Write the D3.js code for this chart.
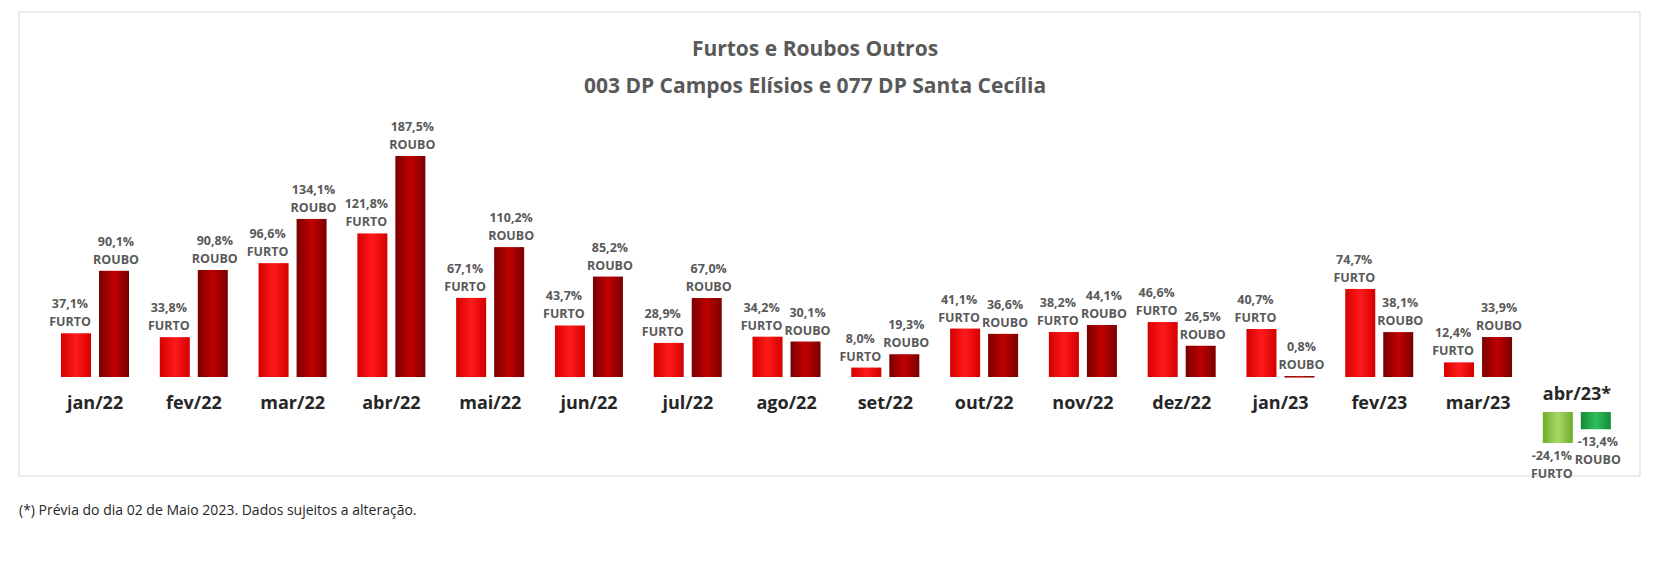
<!DOCTYPE html><html><head><meta charset="utf-8"><script src="https://cdn.jsdelivr.net/npm/d3@7"></script>
<style>body{margin:0;background:#fff;font-family:"Open Sans",Calibri,sans-serif}</style></head><body><svg id="c" width="1664" height="571"></svg>
<script>
const months=["jan/22","fev/22","mar/22","abr/22","mai/22","jun/22","jul/22","ago/22","set/22","out/22","nov/22","dez/22","jan/23","fev/23","mar/23","abr/23*"];
const furto=[37.1,33.8,96.6,121.8,67.1,43.7,28.9,34.2,8.0,41.1,38.2,46.6,40.7,74.7,12.4,-24.1];
const roubo=[90.1,90.8,134.1,187.5,110.2,85.2,67.0,30.1,19.3,36.6,44.1,26.5,0.8,38.1,33.9,-13.4];
const svg=d3.select("#c");
const defs=svg.append("defs");
function grad(id,a,b){const g=defs.append("linearGradient").attr("id",id);g.append("stop").attr("offset","0").attr("stop-color",b);g.append("stop").attr("offset","0.5").attr("stop-color",a);g.append("stop").attr("offset","1").attr("stop-color",b);}
grad("gf","#ff1a1a","#d40000");grad("gr","#c00000","#7a0000");grad("gfn","#a8d86a","#6fae2a");grad("grn","#2fbf5a","#158a3a");
svg.append("rect").attr("x",19).attr("y",12).attr("width",1621).attr("height",464).attr("fill","#fff").attr("stroke","#d9d9d9");
svg.append("text").attr("x",815).attr("y",56).attr("text-anchor","middle").attr("font-size",21).attr("font-weight","bold").attr("fill","#595959").text("Furtos e Roubos Outros");
svg.append("text").attr("x",815).attr("y",93).attr("text-anchor","middle").attr("font-size",21).attr("font-weight","bold").attr("fill","#595959").text("003 DP Campos Elísios e 077 DP Santa Cecília");
const x=d3.scaleBand().domain(months).range([61,1611]).paddingInner(0.31).paddingOuter(0);
const y=d3.scaleLinear().domain([0,187.5]).range([377,156]);
const yn=d3.scaleLinear().domain([0,-24.1]).range([412,443]);
const bw=30;
months.forEach((m,i)=>{
  const x0=x(m);
  const neg=furto[i]<0;
  [[furto[i],x0,"FURTO",neg?"gfn":"gf"],[roubo[i],x0+bw+8,"ROUBO",neg?"grn":"gr"]].forEach(([v,bx,lab,g])=>{
    const sc=v<0?yn:y;
    const top=Math.min(sc(v),sc(0)),h=Math.max(Math.abs(sc(v)-sc(0)),1.5);
    svg.append("rect").attr("x",bx).attr("y",top).attr("width",bw).attr("height",h).attr("fill",`url(#${g})`);
    const cx=bx+bw/2+(lab=="FURTO"?-6:2);
    const t=svg.append("text").attr("text-anchor","middle").attr("font-size",12.5).attr("font-weight","bold").attr("fill","#595959");
    const vs=v.toFixed(1).replace(".",",")+"%";
    const ly=v>=0?top-25:top+h+17;
    t.append("tspan").attr("x",cx).attr("y",ly).text(vs);
    t.append("tspan").attr("x",cx).attr("dy",18).text(lab);
  });
  svg.append("text").attr("x",x0+x.bandwidth()/2).attr("y",neg?400:409).attr("text-anchor","middle").attr("font-size",18).attr("font-weight","bold").attr("fill","#262626").text(m);
});
svg.append("text").attr("x",19).attr("y",515).attr("font-size",14).attr("fill","#262626").text("(*) Prévia do dia 02 de Maio 2023. Dados sujeitos a alteração.");
</script></body></html>
